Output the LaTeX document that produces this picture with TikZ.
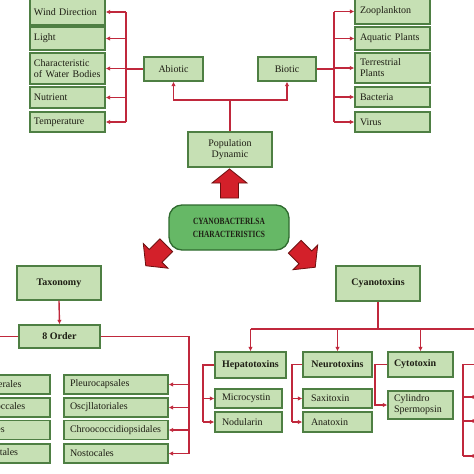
\documentclass[tikz,border=0pt]{standalone}
\usepackage{fontspec}
\setmainfont{Liberation Serif}
\newfontfamily\condfont[FakeStretch=0.78]{Liberation Serif}
\usetikzlibrary{arrows.meta}
\definecolor{boxfill}{HTML}{C6E0B4}
\definecolor{boxline}{HTML}{4E7F43}
\definecolor{connred}{HTML}{C0283C}
\definecolor{bigred}{HTML}{D3202A}
\definecolor{bigredline}{HTML}{6E1010}
\definecolor{midgreen}{HTML}{66B866}
\definecolor{darkgreen}{HTML}{2F6B2F}
\definecolor{txt}{HTML}{1E1E14}
\tikzset{
  gbox/.style={draw=boxline, fill=boxfill, line width=1.3pt, inner sep=0pt, text=txt,
    font=\fontsize{10}{11}\selectfont},
  lbox/.style={gbox, align=left},
  cbox/.style={gbox, align=center},
  bbox/.style={cbox, font=\fontsize{10}{11}\selectfont\bfseries},
  link/.style={draw=connred, line width=1.4pt},
  arr/.style={link, -{Latex[length=4.5pt,width=4.5pt]}},
  blockarr/.style={fill=bigred, draw=bigredline, line width=0.8pt, line join=miter},
  bigarrow/.pic={\path[blockarr] (0,-14.5) -- (17.5,-0.5) -- (9,-0.5) -- (9,14.5) -- (-9,14.5) -- (-9,-0.5) -- (-17.5,-0.5) -- cycle;}
}
\begin{document}
\begin{tikzpicture}[x=1pt,y=-1pt]
\useasboundingbox (0,0) rectangle (474,474);
\clip (0,0) rectangle (474,474);
\fill[white] (0,0) rectangle (474,474);

% ---- top left: abiotic ----
\node[lbox, inner xsep=4pt, minimum width=75pt, text width=67pt, minimum height=26pt] (wind) at (67.5,12) {Wind Direction};
\node[lbox, inner xsep=4pt, minimum width=75pt, text width=67pt, minimum height=23pt] (light) at (67.5,38.5) {Light};
\node[lbox, inner xsep=4pt, minimum width=75pt, text width=67pt, minimum height=31pt] (water) at (67.5,68.5) {Characteristic\\of Water Bodies};
\node[lbox, inner xsep=4pt, minimum width=75pt, text width=67pt, minimum height=21pt] (nutr) at (67.5,97.5) {Nutrient};
\node[lbox, inner xsep=4pt, minimum width=75pt, text width=67pt, minimum height=20pt] (temp) at (67.5,122) {Temperature};
\node[cbox, minimum width=59pt, minimum height=24pt] (abiotic) at (173.5,69) {Abiotic};
\coordinate (va) at (126,0);
\draw[link] (wind.east -| va) -- (temp.east -| va);
\draw[link] (abiotic.west) -- (abiotic.west -| va);
\foreach \n in {wind,light,water,nutr,temp} \draw[arr] (\n.east -| va) -- (\n.east);

% ---- top right: biotic ----
\node[lbox, inner xsep=5pt, minimum width=75pt, text width=65pt, minimum height=25pt] (zoo) at (392.5,11.5) {Zooplankton};
\node[lbox, inner xsep=5pt, minimum width=75pt, text width=65pt, minimum height=23pt] (aqua) at (392.5,38.5) {Aquatic Plants};
\node[lbox, inner xsep=5pt, minimum width=75pt, text width=65pt, minimum height=30pt] (terr) at (392.5,68) {Terrestrial\\Plants};
\node[lbox, inner xsep=5pt, minimum width=75pt, text width=65pt, minimum height=20pt] (bact) at (392.5,97) {Bacteria};
\node[lbox, inner xsep=5pt, minimum width=75pt, text width=65pt, minimum height=20pt] (virus) at (392.5,122) {Virus};
\node[cbox, minimum width=58pt, minimum height=24pt] (biotic) at (287,69) {Biotic};
\coordinate (vb) at (334,0);
\draw[link] (zoo.west -| vb) -- (virus.west -| vb);
\draw[link] (biotic.east) -- (biotic.east -| vb);
\foreach \n in {zoo,aqua,terr,bact,virus} \draw[arr] (\n.west -| vb) -- (\n.west);

% ---- population dynamic ----
\node[cbox, minimum width=84pt, minimum height=35pt] (pop) at (230,149.5) {Population\\Dynamic};
\coordinate (j) at (230,100);
\draw[link] (pop.north) -- (j);
\draw[arr] (j) -| (abiotic.south);
\draw[arr] (j) -| (biotic.south);

% ---- centre ----
\node[draw=darkgreen, fill=midgreen, line width=1.3pt, rounded corners=13pt,
  minimum width=120pt, minimum height=45pt, align=center, text=txt,
  font=\condfont\fontsize{9.5}{13}\selectfont\bfseries] (cyano) at (229,227.5) {CYANOBACTERLSA\\CHARACTERISTICS};
\pic at (229.5,183.5) {bigarrow};
\pic[rotate=135] at (156,255.5) {bigarrow};
\pic[rotate=-135] at (305,257) {bigarrow};

% ---- taxonomy ----
\node[bbox, minimum width=84pt, minimum height=34pt] (tax) at (59,283) {Taxonomy};
\node[bbox, minimum width=81pt, minimum height=23pt] (order) at (59.5,336.5) {8 Order};
\draw[arr] (tax.south) -- (order.north);
\coordinate (ol) at (-10,336.5);
\draw[link] (order.west) -- (ol);
\node[lbox, inner xsep=7pt, minimum width=100pt, text width=86pt, minimum height=19pt] (gloeo) at (0,384.5) {Gloeobacterales};
\node[lbox, inner xsep=7pt, minimum width=100pt, text width=86pt, minimum height=19pt] (syne) at (0,407.5) {Synechococcales};
\node[lbox, inner xsep=7pt, minimum width=100pt, text width=86pt, minimum height=19pt] (spir) at (0,430) {Spirulinales};
\node[lbox, inner xsep=7pt, minimum width=100pt, text width=86pt, minimum height=19pt] (stig) at (0,453.5) {Stigonematales};
\node[lbox, inner xsep=6pt, minimum width=104pt, text width=92pt, minimum height=19pt] (pleuro) at (116,384.5) {Pleurocapsales};
\node[lbox, inner xsep=6pt, minimum width=104pt, text width=92pt, minimum height=19pt] (oscil) at (116,407.5) {Oscjllatoriales};
\node[lbox, inner xsep=6pt, minimum width=104pt, text width=92pt, minimum height=19pt] (chroo) at (116,430) {Chroococcidiopsidales};
\node[lbox, inner xsep=6pt, minimum width=104pt, text width=92pt, minimum height=19pt] (nosto) at (116,453.5) {Nostocales};
\coordinate (orr) at (189,336.5);
\draw[link] (order.east) -- (orr) -- (orr |- nosto.east);
\foreach \n in {pleuro,oscil,chroo,nosto} \draw[arr] (\n.east -| orr) -- (\n.east);

% ---- cyanotoxins ----
\node[bbox, minimum width=84pt, minimum height=35pt] (cyan) at (378,283.5) {Cyanotoxins};
\coordinate (ct) at (378,329);
\coordinate (hr) at (480,329);
\node[bbox, minimum width=71pt, minimum height=26pt] (hepa) at (250.5,365) {Hepatotoxins};
\node[bbox, minimum width=69pt, minimum height=25pt] (neuro) at (337.5,364.5) {Neurotoxins};
\node[lbox, font=\fontsize{10}{11}\selectfont\bfseries, inner xsep=6pt, minimum width=65pt, text width=53pt, minimum height=25pt] (cyto) at (420.5,364.5) {Cytotoxin};
\draw[link] (cyan.south) -- (ct);
\draw[link] (hepa.north |- ct) -- (hr);
\foreach \n in {hepa,neuro,cyto} \draw[arr] (\n.north |- ct) -- (\n.north);

\node[lbox, inner xsep=7pt, minimum width=67pt, text width=53pt, minimum height=19pt] (micro) at (248.5,398.5) {Microcystin};
\node[lbox, inner xsep=7pt, minimum width=67pt, text width=53pt, minimum height=20pt] (nodul) at (248.5,422) {Nodularin};
\coordinate (hv) at (203,0);
\draw[link] (hepa.west) -- (hepa.west -| hv) -- (nodul.west -| hv);
\foreach \n in {micro,nodul} \draw[arr] (\n.west -| hv) -- (\n.west);

\node[lbox, inner xsep=8pt, minimum width=69pt, text width=53pt, minimum height=19pt] (saxi) at (337.5,398.5) {Saxitoxin};
\node[lbox, inner xsep=8pt, minimum width=69pt, text width=53pt, minimum height=20pt] (ana) at (337.5,422) {Anatoxin};
\coordinate (nv) at (292,0);
\draw[link] (neuro.west) -- (neuro.west -| nv) -- (ana.west -| nv);
\foreach \n in {saxi,ana} \draw[arr] (\n.west -| nv) -- (\n.west);

\node[lbox, inner xsep=6pt, minimum width=65pt, text width=53pt, minimum height=28pt] (cylin) at (420.5,405) {Cylindro\\Spermopsin};
\coordinate (cv) at (375,0);
\draw[arr] (cyto.west) -- (cyto.west -| cv) |- (cylin.west);

\coordinate (r0) at (480,364.5);
\coordinate (rv) at (463,364.5);
\coordinate (r1) at (477,397);
\coordinate (r2) at (477,421);
\coordinate (r3) at (477,456);
\draw[link] (r0) -- (rv) -- (rv |- r3);
\foreach \n in {r1,r2,r3} \draw[arr] (rv |- \n) -- (\n);
\end{tikzpicture}
\end{document}
